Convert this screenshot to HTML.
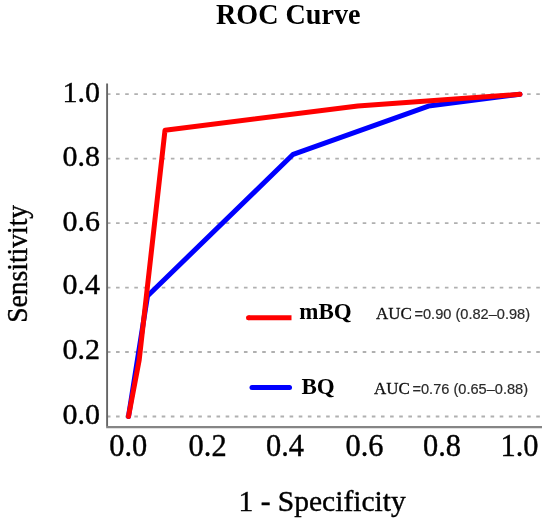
<!DOCTYPE html>
<html><head><meta charset="utf-8"><title>ROC Curve</title>
<style>
html,body{margin:0;padding:0;background:#fff;width:550px;height:527px;overflow:hidden}
svg{display:block}
.serif{font-family:"Liberation Serif",serif}
.heavy{stroke:#000;stroke-width:0.4px;paint-order:stroke}
.sans{font-family:"Liberation Sans",sans-serif}
</style></head>
<body>
<svg width="550" height="527" viewBox="0 0 550 527">
<rect width="550" height="527" fill="#fff"/>
<!-- title -->
<text class="serif" x="216" y="23.5" font-size="29" font-weight="bold" fill="#000" textLength="144.5" lengthAdjust="spacingAndGlyphs">ROC Curve</text>
<!-- gridlines -->
<g stroke="#b0b0b0" stroke-width="1.8" stroke-dasharray="3.6 5.535" fill="none">
<line x1="106.9" y1="94.2" x2="541" y2="94.2"/>
<line x1="106.9" y1="158.7" x2="541" y2="158.7"/>
<line x1="106.9" y1="223.1" x2="541" y2="223.1"/>
<line x1="106.9" y1="287.6" x2="541" y2="287.6"/>
<line x1="106.9" y1="352.0" x2="541" y2="352.0"/>
<line x1="106.9" y1="416.5" x2="541" y2="416.5"/>
</g>
<!-- axes -->
<path d="M107.1 83.5 V426.5" stroke="#666" stroke-width="1.9" fill="none"/>
<path d="M106.15 427.1 H542" stroke="#858585" stroke-width="2.2" fill="none"/>
<!-- y tick labels -->
<g class="serif heavy" font-size="30" fill="#000" text-anchor="end">
<text x="100" y="101.5" textLength="37.5" lengthAdjust="spacingAndGlyphs">1.0</text>
<text x="100" y="165.9" textLength="37.5" lengthAdjust="spacingAndGlyphs">0.8</text>
<text x="100" y="231.0" textLength="37.5" lengthAdjust="spacingAndGlyphs">0.6</text>
<text x="100" y="293.9" textLength="37.5" lengthAdjust="spacingAndGlyphs">0.4</text>
<text x="100" y="359.3" textLength="37.5" lengthAdjust="spacingAndGlyphs">0.2</text>
<text x="100" y="423.7" textLength="37.5" lengthAdjust="spacingAndGlyphs">0.0</text>
</g>
<!-- x tick labels -->
<g class="serif heavy" font-size="30.5" fill="#000" text-anchor="middle">
<text x="128.25" y="455.8" textLength="38" lengthAdjust="spacingAndGlyphs">0.0</text>
<text x="207.6" y="455.8" textLength="38" lengthAdjust="spacingAndGlyphs">0.2</text>
<text x="285" y="455.8" textLength="38" lengthAdjust="spacingAndGlyphs">0.4</text>
<text x="364.5" y="455.8" textLength="38" lengthAdjust="spacingAndGlyphs">0.6</text>
<text x="442" y="455.8" textLength="38" lengthAdjust="spacingAndGlyphs">0.8</text>
<text x="519.5" y="455.8" textLength="38" lengthAdjust="spacingAndGlyphs">1.0</text>
</g>
<!-- axis labels -->
<text class="serif heavy" x="238.5" y="510.8" font-size="30.2" fill="#000" textLength="167.2" lengthAdjust="spacingAndGlyphs">1 - Specificity</text>
<text class="serif heavy" transform="translate(27.3,322.8) rotate(-90)" x="0" y="0" font-size="30" fill="#000" textLength="117.9" lengthAdjust="spacingAndGlyphs">Sensitivity</text>
<!-- curves -->
<g fill="none" stroke-width="5" stroke-linejoin="round" stroke-linecap="round">
<polyline stroke="#0000ff" points="128.5,416.5 147.5,296 293.2,154.3 428.5,106.1 520,94.3"/>
<polyline stroke="#ff0000" points="128.5,416.5 139.2,360 165,130.2 357.8,106.1 520,94.3"/>
</g>
<!-- legend -->
<line x1="248.5" y1="317.8" x2="291.5" y2="317.8" stroke="#ff0000" stroke-width="5"/><circle cx="248.5" cy="317.8" r="2.5" fill="#ff0000"/>
<text class="serif" x="299.3" y="318.5" font-size="23" font-weight="bold" fill="#000">mBQ</text>
<text class="serif" x="376" y="318.6" font-size="16" fill="#111" stroke="#111" stroke-width="0.3" textLength="35.8" lengthAdjust="spacingAndGlyphs">AUC</text>
<text class="sans" x="414.5" y="318.8" font-size="14.6" fill="#2a2a2a" stroke="#2a2a2a" stroke-width="0.2" textLength="115.5" lengthAdjust="spacingAndGlyphs">=0.90 (0.82–0.98)</text>
<line x1="252" y1="387.5" x2="289.5" y2="387.5" stroke="#0000ff" stroke-width="5" stroke-linecap="round"/>
<text class="serif" x="301.5" y="393.8" font-size="23" font-weight="bold" fill="#000">BQ</text>
<text class="serif" x="374" y="394.1" font-size="16" fill="#111" stroke="#111" stroke-width="0.3" textLength="35.8" lengthAdjust="spacingAndGlyphs">AUC</text>
<text class="sans" x="412.5" y="394.2" font-size="14.6" fill="#2a2a2a" stroke="#2a2a2a" stroke-width="0.2" textLength="115.5" lengthAdjust="spacingAndGlyphs">=0.76 (0.65–0.88)</text>
</svg>
</body></html>
